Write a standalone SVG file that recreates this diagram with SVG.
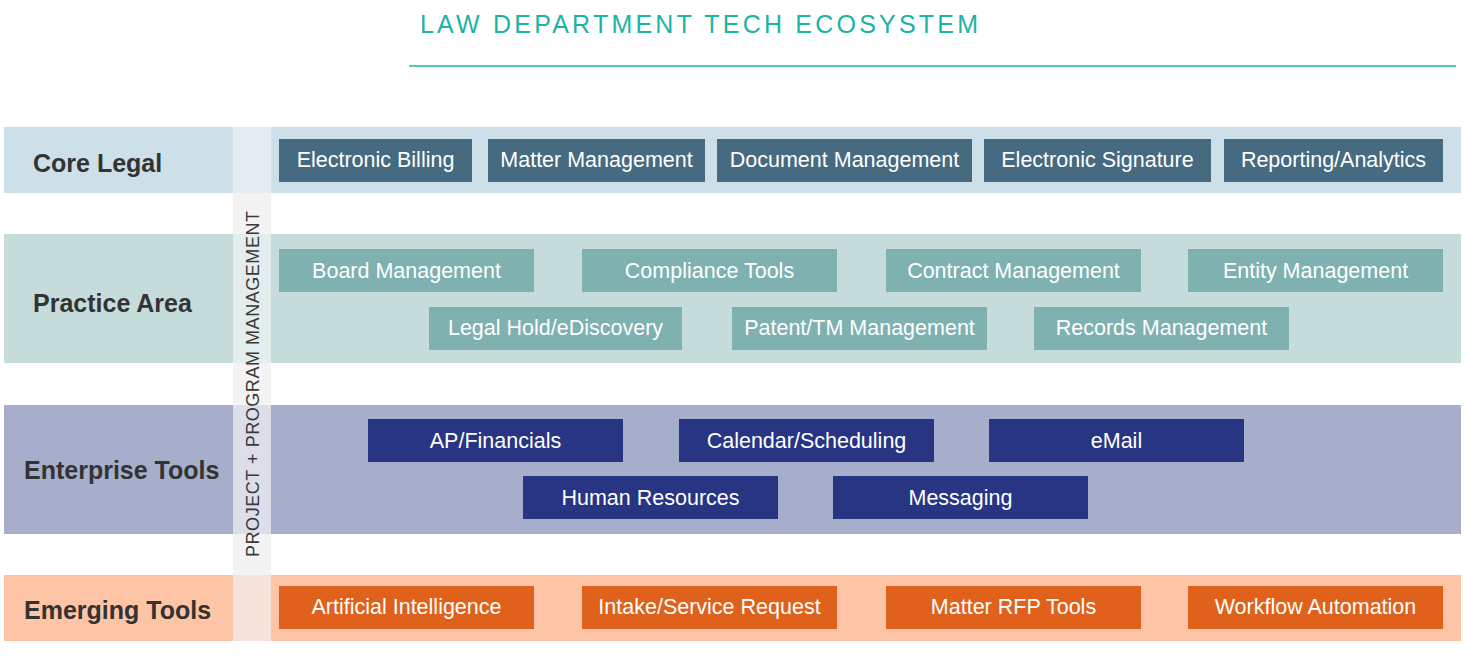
<svg xmlns="http://www.w3.org/2000/svg" width="1481" height="659" viewBox="0 0 1481 659">
<style>
.lbl{font-family:"Liberation Sans",Arial,sans-serif;font-size:25px;font-weight:bold;fill:#333333}
.bx{font-family:"Liberation Sans",Arial,sans-serif;font-size:21.5px;fill:#ffffff;text-anchor:middle}
.core{fill:#466a80}
.prac{fill:#7eb1b0}
.ent{fill:#283583}
.emg{fill:#e0611b}
</style>
<rect width="1481" height="659" fill="#ffffff"/>
<g id="title">
<text x="420" y="33" font-family="'Liberation Sans',Arial,sans-serif" font-size="25" fill="#1db3a4" textLength="558" lengthAdjust="spacing">LAW DEPARTMENT TECH ECOSYSTEM</text>
<line x1="409" y1="66" x2="1456" y2="66" stroke="#1ab8aa" stroke-width="1.5"/>
</g>
<g id="strip-bg"><rect x="233" y="127" width="38" height="514" fill="#f3f3f3"/></g>
<g id="band-core">
<rect x="4" y="127" width="229" height="66" fill="#cddfe8"/>
<rect x="233" y="127" width="38" height="66" fill="#e6ecf0"/>
<rect x="271" y="127" width="1190" height="66" fill="#cddfe8"/>
<text class="lbl" x="33" y="172">Core Legal</text>
</g>
<g id="band-practice">
<rect x="4" y="234" width="229" height="129" fill="#c6dcdb"/>
<rect x="233" y="234" width="38" height="129" fill="#e4eded"/>
<rect x="271" y="234" width="1190" height="129" fill="#c6dcdb"/>
<text class="lbl" x="33" y="312">Practice Area</text>
</g>
<g id="band-enterprise">
<rect x="4" y="405" width="229" height="129" fill="#a6aecc"/>
<rect x="233" y="405" width="38" height="129" fill="#dcdfea"/>
<rect x="271" y="405" width="1190" height="129" fill="#a6aecc"/>
<text class="lbl" x="24" y="479">Enterprise Tools</text>
</g>
<g id="band-emerging">
<rect x="4" y="575" width="229" height="66" fill="#fdc5a6"/>
<rect x="233" y="575" width="38" height="66" fill="#f5e4dc"/>
<rect x="271" y="575" width="1190" height="66" fill="#fdc5a6"/>
<text class="lbl" x="24" y="619">Emerging Tools</text>
</g>
<g id="strip-label">
<text transform="translate(258.5,384) rotate(-90)" font-family="'Liberation Sans',Arial,sans-serif" font-size="18" fill="#3a3a3a" text-anchor="middle" textLength="346" lengthAdjust="spacing">PROJECT + PROGRAM MANAGEMENT</text>
</g>
<g id="core-nodes">
<g id="n-electronic-billing"><rect class="core" x="279" y="139" width="193" height="43"/><text class="bx" x="375.5" y="167">Electronic Billing</text></g>
<g id="n-matter-management"><rect class="core" x="488" y="139" width="217" height="43"/><text class="bx" x="596.5" y="167">Matter Management</text></g>
<g id="n-document-management"><rect class="core" x="717" y="139" width="255" height="43"/><text class="bx" x="844.5" y="167">Document Management</text></g>
<g id="n-electronic-signature"><rect class="core" x="984" y="139" width="227" height="43"/><text class="bx" x="1097.5" y="167">Electronic Signature</text></g>
<g id="n-reporting-analytics"><rect class="core" x="1224" y="139" width="219" height="43"/><text class="bx" x="1333.5" y="167">Reporting/Analytics</text></g>
</g>
<g id="practice-nodes">
<g id="n-board-management"><rect class="prac" x="279" y="249" width="255" height="43"/><text class="bx" x="406.5" y="278">Board Management</text></g>
<g id="n-compliance-tools"><rect class="prac" x="582" y="249" width="255" height="43"/><text class="bx" x="709.5" y="278">Compliance Tools</text></g>
<g id="n-contract-management"><rect class="prac" x="886" y="249" width="255" height="43"/><text class="bx" x="1013.5" y="278">Contract Management</text></g>
<g id="n-entity-management"><rect class="prac" x="1188" y="249" width="255" height="43"/><text class="bx" x="1315.5" y="278">Entity Management</text></g>
<g id="n-legal-hold"><rect class="prac" x="429" y="307" width="253" height="43"/><text class="bx" x="555.5" y="335">Legal Hold/eDiscovery</text></g>
<g id="n-patent-tm"><rect class="prac" x="732" y="307" width="255" height="43"/><text class="bx" x="859.5" y="335">Patent/TM Management</text></g>
<g id="n-records-management"><rect class="prac" x="1034" y="307" width="255" height="43"/><text class="bx" x="1161.5" y="335">Records Management</text></g>
</g>
<g id="enterprise-nodes">
<g id="n-ap-financials"><rect class="ent" x="368" y="419" width="255" height="43"/><text class="bx" x="495.5" y="448">AP/Financials</text></g>
<g id="n-calendar"><rect class="ent" x="679" y="419" width="255" height="43"/><text class="bx" x="806.5" y="448">Calendar/Scheduling</text></g>
<g id="n-email"><rect class="ent" x="989" y="419" width="255" height="43"/><text class="bx" x="1116.5" y="448">eMail</text></g>
<g id="n-human-resources"><rect class="ent" x="523" y="476" width="255" height="43"/><text class="bx" x="650.5" y="505">Human Resources</text></g>
<g id="n-messaging"><rect class="ent" x="833" y="476" width="255" height="43"/><text class="bx" x="960.5" y="505">Messaging</text></g>
</g>
<g id="emerging-nodes">
<g id="n-ai"><rect class="emg" x="279" y="586" width="255" height="43"/><text class="bx" x="406.5" y="614">Artificial Intelligence</text></g>
<g id="n-intake"><rect class="emg" x="582" y="586" width="255" height="43"/><text class="bx" x="709.5" y="614">Intake/Service Request</text></g>
<g id="n-matter-rfp"><rect class="emg" x="886" y="586" width="255" height="43"/><text class="bx" x="1013.5" y="614">Matter RFP Tools</text></g>
<g id="n-workflow"><rect class="emg" x="1188" y="586" width="255" height="43"/><text class="bx" x="1315.5" y="614">Workflow Automation</text></g>
</g>
<g id="connectors"/>
</svg>
